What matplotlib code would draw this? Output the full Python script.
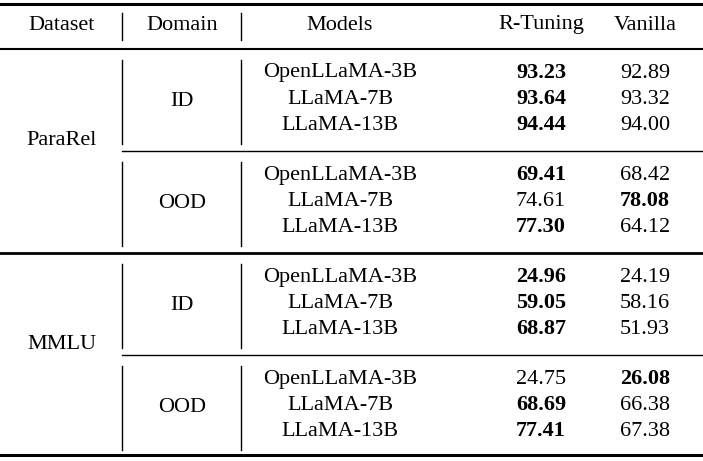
import matplotlib
matplotlib.use("Agg")
import matplotlib.pyplot as plt

headers = ["Dataset", "Domain", "Models", "R-Tuning", "Vanilla"]
datasets = ["ParaRel", "MMLU"]
domains = ["ID", "OOD"]
models = ["OpenLLaMA-3B", "LLaMA-7B", "LLaMA-13B"]
rtuning = [[[93.23, 93.64, 94.44], [69.41, 74.61, 77.30]],
           [[24.96, 59.05, 68.87], [24.75, 68.69, 77.41]]]
vanilla = [[[92.89, 93.32, 94.00], [68.42, 78.08, 64.12]],
           [[24.19, 58.16, 51.93], [26.08, 66.38, 67.38]]]

W, H = 703, 461
fig = plt.figure(figsize=(W/100, H/100), dpi=100)
ax = fig.add_axes([0, 0, 1, 1])
ax.set_xlim(0, W); ax.set_ylim(H, 0); ax.axis("off")
fs = 16
fam = "Liberation Serif"
cx = [62, 182, 340, 541, 645]
vx = [122, 241]

def T(x, y, s, bold=False):
    ax.text(x, y, s, ha="center", va="center", fontsize=fs, family=fam,
            fontweight="bold" if bold else "normal")

ax.plot([0, W], [4, 4], color="k", lw=2.2)
for i, h in enumerate(headers):
    T(cx[i], 25, h)
for x in vx:
    ax.plot([x, x], [13, 40], color="k", lw=1.0)
ax.plot([0, W], [49, 49], color="k", lw=1.5)

ds_top = [49, 253]
for d in range(2):
    top = ds_top[d]
    for g in range(2):
        gtop = top + 11 + g * 102
        rows = [gtop + 13, gtop + 39, gtop + 65]
        for x in vx:
            ax.plot([x, x], [gtop, gtop + 84], color="k", lw=1.0)
        T(cx[1], gtop + 41, domains[g])
        for r in range(3):
            a, b = rtuning[d][g][r], vanilla[d][g][r]
            T(cx[2], rows[r], models[r])
            T(cx[3], rows[r], f"{a:.2f}", bold=a > b)
            T(cx[4], rows[r], f"{b:.2f}", bold=b > a)
    ax.plot([vx[0], W], [top + 102, top + 102], color="k", lw=1.0)
    T(cx[0], top + 91, datasets[d])
ax.plot([0, W], [253, 253], color="k", lw=2.0)
ax.plot([0, W], [455, 455], color="k", lw=2.2)
fig.savefig("out.png", dpi=100)
